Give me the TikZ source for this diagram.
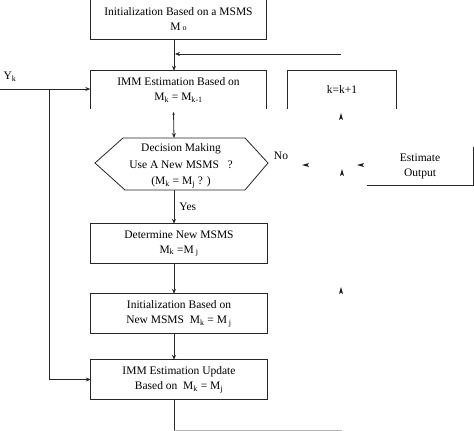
\documentclass[tikz,border=0pt]{standalone}
\usepackage{fontspec}
\setmainfont{Liberation Serif}
\usetikzlibrary{arrows.meta}
\begin{document}
\begin{tikzpicture}[x=1pt,y=-1pt,
  every node/.style={font=\fontsize{11.5}{15}\selectfont, inner sep=0pt},
  ln/.style={line width=0.8pt, draw=black!85},
  arr/.style={ln, -{Stealth[length=5pt,width=4pt]}},
  txt/.style={align=center},
  wbox/.style={txt, minimum width=176pt, minimum height=39pt},
  tipmark/.style={fill=black!90}
]
\useasboundingbox (0,0) rectangle (474,431);

% top box
\node[wbox] (init0) at (178.5,19.5) {Initialization Based on a MSMS\\ M\,{\footnotesize o}};
\draw[ln] (init0.north west) -- (init0.south west) -- (init0.south east) -- (init0.north east);
\draw[ln, draw=black!35] (init0.north west) -- (init0.north east);

% IMM box (open bottom)
\node[txt, minimum width=176pt, minimum height=38pt] (imm) at (178.5,90) {IMM Estimation Based on\\ M\textsubscript{k} = M\textsubscript{k-1}};
\draw[ln] (imm.south west) -- (imm.north west) -- (imm.north east) -- (imm.south east);

% k=k+1 box (open bottom)
\node[txt, minimum width=108pt, minimum height=38pt] (kb) at (342,90) {k=k+1};
\draw[ln] (kb.south west) -- (kb.north west) -- (kb.north east) -- (kb.south east);

% decision hexagon
\node[txt] (dec) at (181,165.5) {Decision Making\\[2pt] Use A New MSMS \ \ ?\\[1pt] (M\textsubscript{k} = M\textsubscript{j} ? )};
\draw[ln] (95,163) -- (123,138) -- (245,138) -- (268,163) -- (245,190) -- (125,190) -- cycle;
\coordinate (decN) at (174,138);
\coordinate (decS) at (174,190);
\node (no) at (281,156) {No};

% estimate output (partial)
\node[txt, minimum width=106pt, minimum height=38pt] (est) at (420,166) {Estimate\\ Output};
\draw[ln] (est.south west) -- (est.south east) -- (est.north east);

% lower boxes
\node[wbox] (det) at (179,243.5) {Determine New MSMS\\ M\textsubscript{k} =M\,\textsubscript{j}};
\draw[ln] (det.north west) rectangle (det.south east);
\node[wbox] (init2) at (179,313.5) {Initialization Based on\\ New MSMS \ M\textsubscript{k} = M\,\textsubscript{j}};
\draw[ln] (init2.north west) rectangle (init2.south east);
\node[wbox] (upd) at (179,379.5) {IMM Estimation Update\\ Based on \ M\textsubscript{k} = M\textsubscript{j}};
\draw[ln] (upd.north west) rectangle (upd.south east);

% connectors
\draw[arr] ([xshift=-4.5pt]init0.south) -- ([xshift=-4.5pt]imm.north);
\coordinate (fb) at (341,54);
\coordinate (fbend) at (175,54);
\draw[arr] (fb) -- (fbend);

\coordinate (yin) at (0,89);
\coordinate (br) at (49,89);
\node (yk) at (10,77) {Y\textsubscript{k}};
\draw[arr] (yin) -- (yin -| imm.west);
\draw[arr] (br) |- (upd.west);

\coordinate (immout) at (173.5,112);
\draw[ln, {Stealth[length=3pt,width=2.5pt]}-{Stealth[length=5pt,width=4pt]}] (immout) -- (decN);
\draw[arr] (decS) -- ([xshift=-5pt]det.north) node[pos=0.5, right=5pt] {Yes};
\draw[arr] ([xshift=-5pt]det.south) -- ([xshift=-5pt]init2.north);
\draw[arr] ([xshift=-5pt]init2.south) -- ([xshift=-5pt]upd.north);

\coordinate (bend) at (174,430.5);
\coordinate (bendR) at (342,430.5);
\draw[ln] ([xshift=-5pt]upd.south) -- (bend);
\draw[ln, draw=black!30] (bend) -- (bendR);

% isolated arrow heads
\fill[tipmark] (341,113) -- ++(2,7) -- ++(-2,-1.5) -- ++(-2,1.5) -- cycle;
\fill[tipmark] (342,169) -- ++(2,7) -- ++(-2,-1.5) -- ++(-2,1.5) -- cycle;
\fill[tipmark] (341,287) -- ++(2,7) -- ++(-2,-1.5) -- ++(-2,1.5) -- cycle;
\fill[tipmark] (302,165) -- ++(7,-2) -- ++(-1.5,2) -- ++(1.5,2) -- cycle;
\fill[tipmark] (357,165) -- ++(7,-2) -- ++(-1.5,2) -- ++(1.5,2) -- cycle;
\end{tikzpicture}
\end{document}
